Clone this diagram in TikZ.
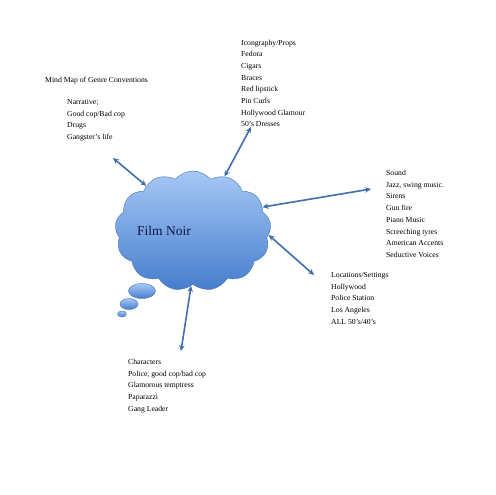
\documentclass[tikz,border=0pt]{standalone}
\usepackage{fontspec}
\setmainfont{Liberation Serif}
\usetikzlibrary{shapes.symbols, shapes.geometric, arrows.meta}
\definecolor{cloudtop}{RGB}{165,200,245}
\definecolor{cloudbottom}{RGB}{70,125,205}
\definecolor{cloudline}{RGB}{70,115,180}
\definecolor{arrowblue}{RGB}{65,110,175}
\definecolor{noirtext}{RGB}{15,25,60}

\begin{document}
\begin{tikzpicture}[
    x=1pt, y=-1pt,
    topic/.style={anchor=base west, align=left, inner sep=0pt, font=\fontsize{7.7}{11.7}\selectfont},
    bubble/.style={ellipse, draw=cloudline, thin, top color=cloudtop, bottom color=cloudbottom, inner sep=0pt},
    arrow/.style={{Stealth[length=6pt,width=5.5pt]}-{Stealth[length=6pt,width=5.5pt]}, arrowblue, line width=1.6pt}
]
    \useasboundingbox[fill=white] (0,0) rectangle (495,495);

    % Thought bubbles
    \node[bubble, minimum width=27pt, minimum height=15pt] (bubA) at (142,291) {};
    \node[bubble, minimum width=18pt, minimum height=11pt] (bubB) at (129,304) {};
    \node[bubble, minimum width=9pt, minimum height=6pt] (bubC) at (122,314) {};

    % Central cloud
    \node[cloud, cloud puffs=13, cloud puff arc=100, cloud ignores aspect, draw=cloudline, top color=cloudtop, bottom color=cloudbottom, minimum width=156pt, minimum height=120pt] (noir) at (193,231) {};
    \node[font=\fontsize{13.5}{15}\selectfont, text=noirtext, anchor=base west, inner sep=0pt] (title) at (137,235) {Film Noir};

    % Branch texts (anchored at the baseline of their last line)
    \node[topic] (heading) at (45,82.5) {Mind Map of Genre Conventions};
    \node[topic] (narrative) at (67,139.6) {Narrative;\\Good cop/Bad cop\\Drugs\\Gangster's life};
    \node[topic] (icons) at (241,126.9) {Icongraphy/Props\\Fedora\\Cigars\\Braces\\Red lipstick\\Pin Curls\\Hollywood Glamour\\50's Dresses};
    \node[topic] (sound) at (386,257.4) {Sound\\Jazz, swing music.\\Sirens\\Gun fire\\Piano Music\\Screeching tyres\\American Accents\\Seductive Voices};
    \node[topic] (places) at (331,324.3) {Locations/Settings\\Hollywood\\Police Station\\Los Angeles\\ALL 50's/40's};
    \node[topic] (people) at (128,411.3) {Characters\\Police, good cop/bad cop\\Glamorous temptress\\Paparazzi\\Gang Leader};

    % Arrow ends
    \coordinate (narrEnd) at (113,158);
    \coordinate (iconEnd) at (251,127);
    \coordinate (soundEnd) at (371,189);
    \coordinate (placeEnd) at (314,275);
    \coordinate (peopleEnd) at (181,351);

    % Arrows
    \draw[arrow] (narrEnd) -- (noir.136);
    \draw[arrow] (iconEnd) -- (noir.60);
    \draw[arrow] (soundEnd) -- (noir.19);
    \draw[arrow] (placeEnd) -- (noir.-3);
    \draw[arrow] (peopleEnd) -- (noir.268);
\end{tikzpicture}
\end{document}
